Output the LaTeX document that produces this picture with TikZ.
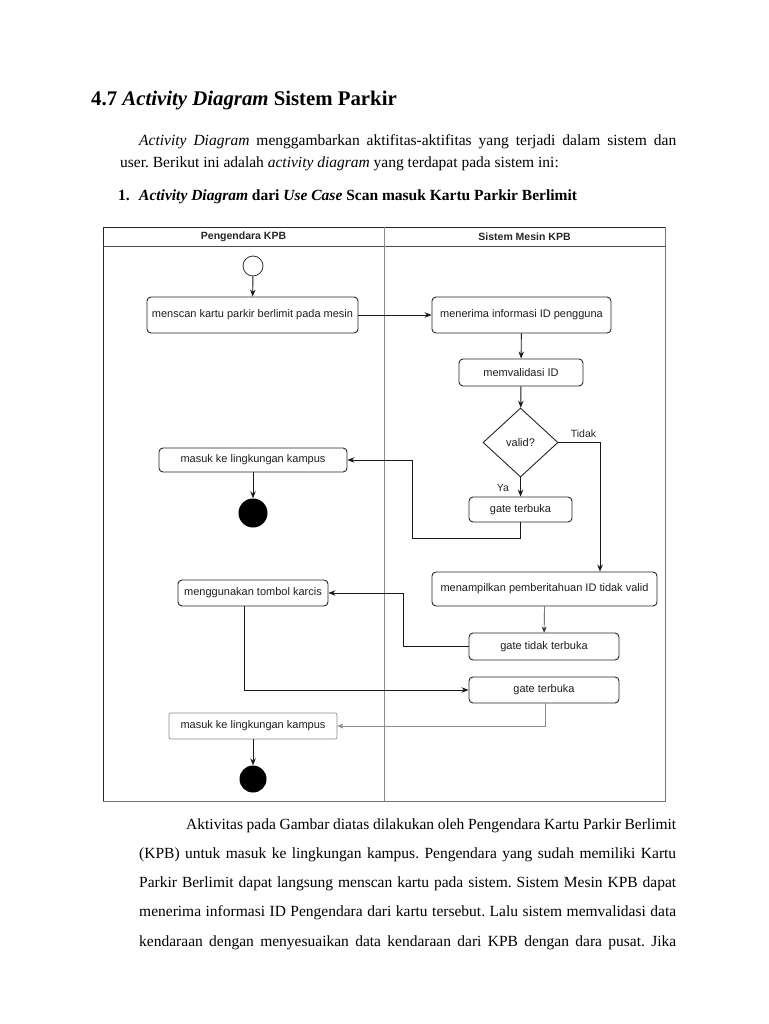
\documentclass[tikz,border=0pt]{standalone}
\usepackage{fontspec}
\setmainfont{Liberation Serif}
\newfontfamily\diagfont{Liberation Sans}
\usetikzlibrary{arrows.meta,shapes.geometric}
\def\bodysize{\fontsize{15.5}{18}\selectfont}
\def\justline#1#2{\makebox[#1][s]{#2}}
\frenchspacing

\tikzset{
	act/.style={draw=black!85, rounded corners=4pt, line width=0.9pt, inner sep=0pt,
		font=\diagfont\fontsize{11}{13}\selectfont, text=black!88},
	flow/.style={line width=0.9pt, draw=black!90, -{Stealth[length=7pt,width=5.5pt]}},
	thinflow/.style={line width=0.6pt, draw=black!80, -{Stealth[length=6pt,width=5pt]}},
	lbl/.style={inner sep=0pt, font=\diagfont\fontsize{10.5}{12}\selectfont, text=black!85},
	lane/.style={inner sep=0pt, font=\diagfont\fontsize{10.5}{12}\selectfont\bfseries, text=black!85},
	txt/.style={inner sep=0pt, anchor=base west, font=\bodysize},
}

\begin{document}
\begin{tikzpicture}[x=1pt,y=-1pt]
			%%%%% PAGE %%%%%
			\useasboundingbox[fill=white] (0,0) rectangle (768,1024);
			
			\node[txt, font=\fontsize{20.8}{24}\selectfont\bfseries] (judul) at (91,106) {4.7 \textit{Activity Diagram} Sistem Parkir};
			
			\node[txt] (p1) at (139,146) {\justline{537pt}{\textit{Activity Diagram} menggambarkan aktifitas-aktifitas yang terjadi dalam sistem dan}};
			\node[txt] (p2) at (120,168) {user. Berikut ini adalah \textit{activity diagram} yang terdapat pada sistem ini:};
			
			\node[txt, font=\bodysize\bfseries] (nomor) at (118,201) {1.};
			\node[txt, font=\bodysize\bfseries] (sub) at (139,201) {\textit{Activity Diagram} dari \textit{Use Case} Scan masuk Kartu Parkir Berlimit};
			
			%%%%% SWIMLANES %%%%%
			\draw[line width=0.9pt, draw=black!55] (103,227) rectangle (665,801);
			\draw[line width=0.9pt, draw=black!85] (103,227) -- (665,227);
			\draw[line width=0.9pt, draw=black!85] (103,227) -- (103,801);
			\draw[line width=0.9pt, draw=black!70] (103,246) -- (665,246);
			\draw[line width=0.9pt, draw=black!45] (384,227) -- (384,801);
			\node[lane] (laneA) at (243.5,237) {Pengendara KPB};
			\node[lane] (laneB) at (524.5,237) {Sistem Mesin KPB};
			
			%%%%% NODES %%%%%
			\node[circle, draw=black!80, line width=0.8pt, minimum size=20pt, inner sep=0pt] (start) at (253,266) {};
			\node[act, minimum width=211pt, minimum height=36pt] (scan) at (252.5,315) {menscan kartu parkir berlimit pada mesin};
			\node[act, minimum width=179pt, minimum height=36pt] (terima) at (521.5,315) {menerima informasi ID pengguna};
			\node[act, minimum width=124pt, minimum height=27pt] (validasi) at (521,372.5) {memvalidasi ID};
			\node[act, diamond, rounded corners=0pt, minimum width=75pt, minimum height=69pt] (valid) at (520.5,442.5) {valid?};
			\node[act, minimum width=103pt, minimum height=25pt] (buka1) at (520.5,509.5) {gate terbuka};
			\node[act, minimum width=188pt, minimum height=24pt] (masuk1) at (253,460) {masuk ke lingkungan kampus};
			\node[circle, fill=black, minimum size=29pt, inner sep=0pt] (end1) at (253,513) {};
			
			\node[act, minimum width=225pt, minimum height=34pt] (tampil) at (544.5,589) {menampilkan pemberitahuan ID tidak valid};
			\node[act, minimum width=150pt, minimum height=27pt] (tidak) at (544,646.5) {gate tidak terbuka};
			\node[act, minimum width=150pt, minimum height=26pt] (karcis) at (253,593) {menggunakan tombol karcis};
			\node[act, minimum width=150pt, minimum height=26pt] (buka2) at (544,690) {gate terbuka};
			\node[act, draw=black!45, rounded corners=2pt, line width=0.7pt, minimum width=168pt, minimum height=26pt] (masuk2) at (253,726) {masuk ke lingkungan kampus};
			\node[circle, fill=black, minimum size=27pt, inner sep=0pt] (end2) at (253,779) {};
			
			\node[lbl] (ya) at (503,488) {Ya};
			\node[lbl] (tdklbl) at (583.5,434) {Tidak};
			
			\coordinate (tdk) at (600,442.5);
			\coordinate (b1) at (412,538);
			\coordinate (k1) at (403,593);
			
			%%%%% FLOWS %%%%%
			\draw[flow] (start) -- (scan);
			\draw[flow] (scan) -- (terima);
			\draw[flow] (terima) -- (validasi);
			\draw[flow] (validasi) -- (valid);
			\draw[flow] (valid) -- (buka1);
			\draw[flow] (valid.east) -- (tdk) -- (tdk |- tampil.north);
			\draw[flow] (buka1.south) |- (b1) |- (masuk1.east);
			\draw[flow] (masuk1) -- (end1);
			\draw[thinflow] (tampil) -- (tidak);
			\draw[flow] (tidak.west) -| (k1) -- (karcis.east);
			\draw[flow] ([xshift=-9pt]karcis.south) |- (buka2.west);
			\draw[thinflow, draw=black!45] ([xshift=1.5pt]buka2.south) |- (masuk2.east);
			\draw[flow] (masuk2) -- (end2);
			
			%%%%% TEXT BELOW %%%%%
			\node[txt] (q1) at (186,829) {\justline{490pt}{Aktivitas pada Gambar diatas dilakukan oleh Pengendara Kartu Parkir Berlimit}};
			\node[txt] (q2) at (139,858.3) {\justline{537pt}{(KPB) untuk masuk ke lingkungan kampus. Pengendara yang sudah memiliki Kartu}};
			\node[txt] (q3) at (139,887.6) {\justline{537pt}{Parkir Berlimit dapat langsung menscan kartu pada sistem. Sistem Mesin KPB dapat}};
			\node[txt] (q4) at (139,916.9) {\justline{537pt}{menerima informasi ID Pengendara dari kartu tersebut. Lalu sistem memvalidasi data}};
			\node[txt] (q5) at (139,946.2) {\justline{537pt}{kendaraan dengan menyesuaikan data kendaraan dari KPB dengan dara pusat. Jika}};
			
			%%%%% END %%%%%
\end{tikzpicture}
\end{document}
